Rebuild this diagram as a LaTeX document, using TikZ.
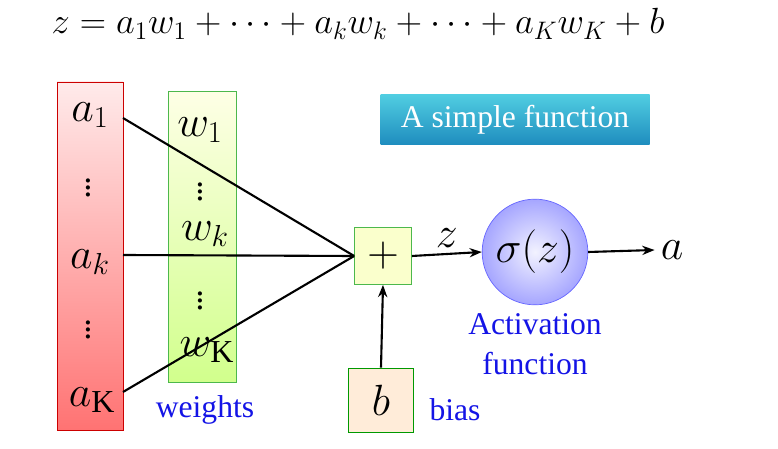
\documentclass[tikz,border=0pt]{standalone}
\usepackage{fontspec}
\setmainfont{Liberation Serif}
\usetikzlibrary{arrows.meta}
\definecolor{bluetxt}{RGB}{20,20,230}
\definecolor{sftop}{RGB}{80,205,225}
\definecolor{sfbot}{RGB}{30,140,190}
\begin{document}
\begin{tikzpicture}[x=0.02cm,y=-0.02cm,
  lbl/.style={font=\fontsize{26}{28}\selectfont\itshape},
  dt/.style={font=\fontsize{20}{22}\selectfont,inner sep=0},
  blue/.style={text=bluetxt,font=\fontsize{16}{19}\selectfont},
  conn/.style={line width=1.2pt},
  arr/.style={line width=1.2pt,-{Stealth[length=7pt]}}]
\useasboundingbox (0,0) rectangle (778,449);
\node (eq) at (358,24) {\fontsize{21.5}{24}\selectfont $z=a_1w_1+\cdots+a_kw_k+\cdots+a_Kw_K+b$};
\node (ra) [draw=red!80!black,top color=red!8,bottom color=red!55,minimum width=66*0.02cm,minimum height=348*0.02cm,inner sep=0] at (90,256) {};
\node (ga) [draw=green!60!black!70,top color=green!5!yellow!10,bottom color=green!40!yellow!45,minimum width=68*0.02cm,minimum height=291*0.02cm,inner sep=0] at (202,237) {};
\node (a1) [lbl] at (90,115) {$a_1$};
\node (d1) [dt] at (88,183) {$\vdots$};
\node (ak) [lbl] at (90,262) {$a_k$};
\node (d2) [dt] at (88,325) {$\vdots$};
\node (aK) [lbl] at (92,400) {$a_{\mathrm{K}}$};
\node (w1) [lbl] at (200,130) {$w_1$};
\node (d3) [dt] at (200,187) {$\vdots$};
\node (wk) [lbl] at (205,234) {$w_k$};
\node (d4) [dt] at (200,296) {$\vdots$};
\node (wK) [lbl] at (207,350) {$w_{\mathrm{K}}$};
\node (plus) [draw=green!60!black!70,fill=green!10!yellow!20,minimum width=57*0.02cm,minimum height=57*0.02cm,inner sep=0,font=\fontsize{24}{26}\selectfont] at (383,256) {$+$};
\coordinate (s1) at (123,118);
\coordinate (s2) at (123,255);
\coordinate (s3) at (123,392);
\draw[conn] (s1) -- (plus.west);
\draw[conn] (s2) -- (plus.west);
\draw[conn] (s3) -- (plus.west);
\node (sig) [circle,draw=blue!60,inner color=blue!5,outer color=blue!35,minimum size=104*0.02cm,font=\fontsize{26}{28}\selectfont] at (535,252) {$\sigma(z)$};
\draw[arr] (plus.east) -- node[above,lbl]{$z$} (sig.west);
\node (a) [lbl] at (672,250) {$a$};
\draw[arr] (sig.east) -- (a.west);
\node (act) [blue,font=\fontsize{18}{21}\selectfont,align=center] at (535,344) {Activation\\[2pt]function};
\node (b) [draw=green!60!black,fill=orange!15,minimum width=65*0.02cm,minimum height=64*0.02cm,inner sep=0,font=\fontsize{28}{30}\selectfont\itshape] at (381,400) {$b$};
\draw[arr] (b.north) -- (plus.south);
\node (bias) [blue,font=\fontsize{18}{21}\selectfont] at (455,410) {bias};
\node (wt) [blue,font=\fontsize{18}{21}\selectfont] at (205,410) {weights};
\node (sf) [top color=sftop,bottom color=sfbot,text=white,minimum width=269*0.02cm,minimum height=50*0.02cm,font=\fontsize{18}{21}\selectfont] at (515,120) {A simple function};
\end{tikzpicture}
\end{document}
